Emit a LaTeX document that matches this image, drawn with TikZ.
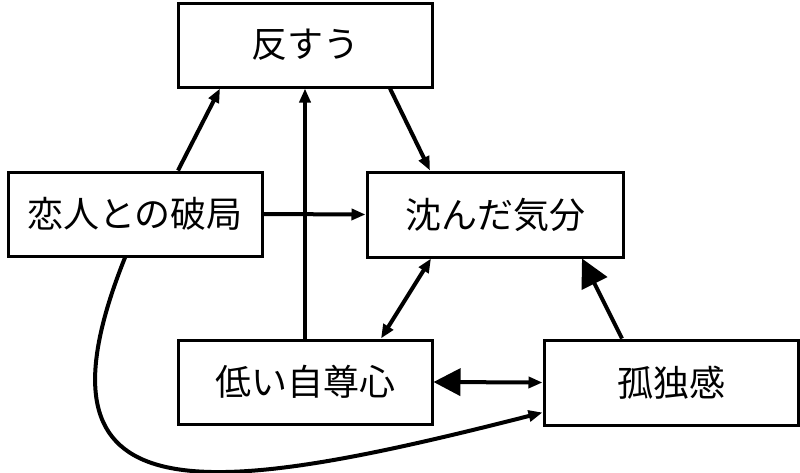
\documentclass[tikz,border=0pt]{standalone}
\usepackage{fontspec}
\setmainfont{Noto Sans CJK JP}
\usetikzlibrary{arrows.meta}
\tikzset{
  box/.style={draw, line width=3pt, inner sep=0pt, minimum width=254pt, minimum height=84pt,
    font=\fontsize{36}{40}\selectfont, fill=white},
  conn/.style={line width=4pt},
  smallhead/.style={-{Triangle[length=14pt,width=11pt]}},
  smallboth/.style={{Triangle[length=14pt,width=11pt]}-{Triangle[length=14pt,width=11pt]}},
  bighead/.style={-{Triangle[length=28pt,width=28pt]}},
  bigsmall/.style={{Triangle[length=27pt,width=27pt]}-{Triangle[length=14pt,width=11pt]}}
}
\begin{document}
\begin{tikzpicture}[x=1pt,y=-1pt]
\useasboundingbox[fill=white] (0,0) rectangle (800,472);
\node[box] (A) at (305,45) {反すう};
\node[box] (B) at (135,214) {恋人との破局};
\node[box, minimum width=256pt, minimum height=85pt] (C) at (495,214.5) {沈んだ気分};
\node[box] (D) at (305,382) {低い自尊心};
\node[box, minimum height=85pt] (E) at (671,382.5) {孤独感};
\draw[conn,smallhead] ([xshift=43pt]B.north) -- ([xshift=-85pt]A.south);
\draw[conn,smallhead] (D.north) -- (A.south);
\draw[conn,smallhead] ([xshift=85pt]A.south) -- ([xshift=-65pt]C.north);
\draw[conn,smallhead] (B.east) -- (C.west);
\draw[conn,smallboth] ([xshift=76pt]D.north) -- ([xshift=-64pt]C.south);
\draw[conn,bighead] ([xshift=-49pt]E.north) -- ([xshift=87pt]C.south);
\draw[conn,bigsmall] (D.east) -- (E.west);
\draw[conn,smallhead] ([xshift=-10pt]B.south) .. controls (20,520) and (200,500) .. ([yshift=-30pt]E.west);
\end{tikzpicture}
\end{document}
